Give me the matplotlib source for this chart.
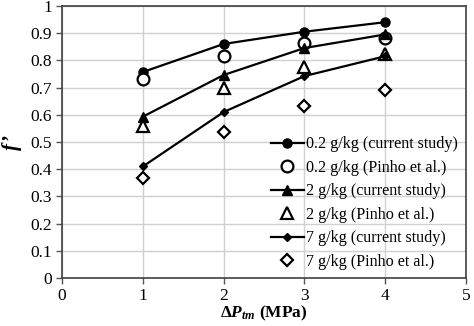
import matplotlib
matplotlib.use('Agg')
import matplotlib.pyplot as plt

plt.rcParams['font.family'] = ['Liberation Serif', 'DejaVu Serif']
plt.rcParams['mathtext.fontset'] = 'custom'
plt.rcParams['mathtext.rm'] = 'Liberation Serif:bold'
plt.rcParams['mathtext.it'] = 'Liberation Serif:italic:bold'
plt.rcParams['mathtext.bf'] = 'Liberation Serif:bold'

# data
dp = [1, 2, 3, 4]
cur_02 = [0.757, 0.86, 0.905, 0.94]
pin_02 = [0.73, 0.816, 0.862, 0.882]
cur_2 = [0.593, 0.746, 0.845, 0.895]
pin_2 = [0.559, 0.70, 0.776, 0.825]
cur_7 = [0.41, 0.61, 0.742, 0.815]
pin_7 = [0.367, 0.536, 0.632, 0.69]

fig = plt.figure(figsize=(4.74, 3.26), dpi=100)
ax = fig.add_axes([0.131, 0.147, 0.852, 0.835])

ax.plot(dp, cur_02, '-o', color='black', lw=1.6, ms=6.5, label='0.2 g/kg (current study)')
ax.plot(dp, pin_02, 'o', color='black', mfc='white', mew=1.6, ms=8.5, ls='none', label='0.2 g/kg (Pinho et al.)')
ax.plot(dp, cur_2, '-^', color='black', lw=1.6, ms=6.5, label='2 g/kg (current study)')
ax.plot(dp, pin_2, '^', color='black', mfc='white', mew=1.6, ms=8.5, ls='none', label='2 g/kg (Pinho et al.)')
ax.plot(dp, cur_7, '-D', color='black', lw=1.6, ms=4.5, label='7 g/kg (current study)')
ax.plot(dp, pin_7, 'D', color='black', mfc='white', mew=1.6, ms=6.5, ls='none', label='7 g/kg (Pinho et al.)')

ax.set_xlim(0, 5)
ax.set_ylim(0, 1)
ax.set_xticks([0, 1, 2, 3, 4, 5])
ax.set_yticks([0, 0.1, 0.2, 0.3, 0.4, 0.5, 0.6, 0.7, 0.8, 0.9, 1])
ax.set_yticklabels(['0', '0.1', '0.2', '0.3', '0.4', '0.5', '0.6', '0.7', '0.8', '0.9', '1'])
ax.tick_params(labelsize=12.5, length=4, width=1, direction='out', color='#555555', pad=3)
ax.grid(True, color='#d0d0d0', lw=1)
ax.set_axisbelow(True)
for s in ax.spines.values():
    s.set_color('#404040')
    s.set_linewidth(1.2)

ax.set_xlabel(r'$\Delta P_{tm}$ (MPa)', fontsize=12.5, fontweight='bold', labelpad=0)
ax.set_ylabel('f’', fontsize=15, fontstyle='italic', fontweight='bold', labelpad=6)

ax.legend(loc='lower right', frameon=False, fontsize=11.6, handlelength=2.0,
          handletextpad=0.15, labelspacing=0.47, borderaxespad=0.2, borderpad=0.3)

fig.savefig('out.png', dpi=100)
